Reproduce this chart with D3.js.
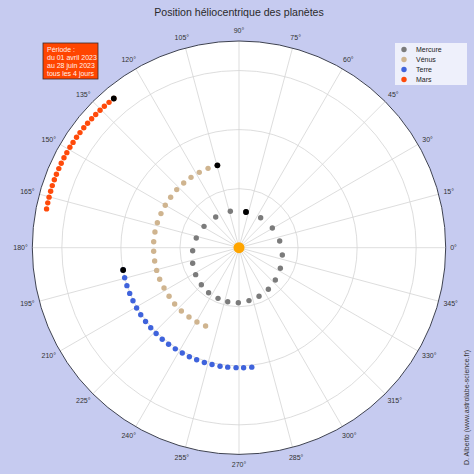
<!DOCTYPE html>
<html>
<head>
<meta charset="utf-8">
<script src="https://cdn.jsdelivr.net/npm/d3@7"></script>
<style>
  body { margin: 0; background: #c6cbf0; }
  svg { display: block; font-family: "Liberation Sans", Arial, sans-serif; }
</style>
</head>
<body>
<svg id="chart"></svg>
<script>
// heliocentric longitude (deg) and distance (AU), every 4 days, 01/04/2023 -> 28/06/2023
const mercureLon = [78.9, 103.4, 127.2, 148.6, 167.2, 183.7, 198.6, 211.9, 224.5, 236.0, 247.5, 258.2,
  269.3, 280.7, 292.4, 305.2, 318.3, 333.5, 350.4, 9.3, 30.6, 54.1, 78.9];
const mercureR = [0.308, 0.317, 0.326, 0.347, 0.371, 0.393, 0.414, 0.432, 0.447, 0.460, 0.464, 0.467,
  0.466, 0.456, 0.445, 0.431, 0.412, 0.391, 0.372, 0.349, 0.328, 0.313, 0.308];

const venusLon = [104.7, 111.3, 117.8, 124.3, 130.5, 137.0, 143.6, 150.1, 156.4, 163.0, 169.4, 176.0,
  182.4, 189.0, 195.4, 201.7, 208.3, 214.8, 221.2, 227.7, 234.2, 240.5, 246.9];
const venusR = [0.721, 0.721, 0.721, 0.721, 0.721, 0.721, 0.719, 0.720, 0.721, 0.723, 0.724, 0.724,
  0.723, 0.723, 0.723, 0.723, 0.721, 0.721, 0.724, 0.725, 0.724, 0.723, 0.721];

const terreLon = [190.9, 194.7, 198.7, 202.7, 206.6, 210.5, 214.3, 218.3, 222.2, 226.0, 230.0, 233.9,
  237.8, 241.7, 245.5, 249.3, 253.2, 257.0, 260.9, 264.6, 268.6, 272.2, 276.1];
const terreR = [0.999, 1.001, 1.002, 1.003, 1.004, 1.006, 1.007, 1.008, 1.009, 1.010, 1.011, 1.012,
  1.012, 1.013, 1.014, 1.014, 1.015, 1.015, 1.016, 1.016, 1.016, 1.017, 1.017];

const marsLon = [130.0, 131.8, 133.6, 135.3, 137.1, 138.8, 140.6, 142.3, 144.1, 145.8, 147.6, 149.3,
  151.1, 152.8, 154.6, 156.3, 158.1, 159.8, 161.6, 163.3, 165.1, 166.8, 168.6];
const marsR = [1.649, 1.651, 1.653, 1.655, 1.656, 1.658, 1.659, 1.661, 1.662, 1.663, 1.664, 1.665,
  1.665, 1.666, 1.666, 1.666, 1.666, 1.666, 1.666, 1.665, 1.664, 1.663, 1.662];

const planetNames = ["Mercure", "Vénus", "Terre", "Mars"];
const planetColors = ["#7b7b7b", "#cfb48f", "#3f63dc", "#ff4a0a"];
const angleTicks = d3.range(0, 360, 15);
const radialTicks = [0.5, 1, 1.5];
const periodLines = ["Période :", "du 01 avril 2023", "au 28 juin 2023", "tous les 4 jours"];

const width = 474, height = 474;
const cx = 239, cy = 247.7, outerR = 206.7;

const svg = d3.select("#chart").attr("width", width).attr("height", height);

const r = d3.scaleLinear().domain([0, 1.75]).range([0, outerR]);
// longitude counter-clockwise from the right -> d3.pointRadial angle
const a = d3.scaleLinear().domain([0, 360]).range([Math.PI / 2, Math.PI / 2 - 2 * Math.PI]);
const pt = (lon, dist) => d3.pointRadial(a(lon), r(dist));

svg.append("text")
  .attr("x", cx)
  .attr("y", 15.5)
  .attr("text-anchor", "middle")
  .style("font-size", "10.6px")
  .style("fill", "#2a2a2a")
  .text("Position héliocentrique des planètes");

const g = svg.append("g").attr("transform", `translate(${cx},${cy})`);

g.append("circle").attr("r", outerR).attr("fill", "#fff");

g.selectAll(".rgrid")
  .data(radialTicks)
  .enter()
  .append("circle")
  .attr("r", (d) => r(d))
  .attr("fill", "none")
  .attr("stroke", "#d4d4d4")
  .attr("stroke-width", 0.8);

g.selectAll(".agrid")
  .data(angleTicks)
  .enter()
  .append("line")
  .attr("x1", 0).attr("y1", 0)
  .attr("x2", (d) => pt(d, 1.75)[0])
  .attr("y2", (d) => pt(d, 1.75)[1])
  .attr("stroke", "#d4d4d4")
  .attr("stroke-width", 0.8);

g.append("circle")
  .attr("r", outerR)
  .attr("fill", "none")
  .attr("stroke", "#3d4150")
  .attr("stroke-width", 1);

// angular tick labels, pushed outward according to their box
const labels = g.selectAll(".alabel")
  .data(angleTicks)
  .enter()
  .append("text")
  .attr("text-anchor", "middle")
  .attr("dominant-baseline", "central")
  .style("font-size", "7px")
  .style("fill", "#333")
  .text((d) => d + "°");

labels.each(function (d) {
  const w = this.getComputedTextLength();
  const h = 7;
  const c = Math.cos(d * Math.PI / 180), s = Math.sin(d * Math.PI / 180);
  const pad = 4.5 + 2.5 * Math.abs(s);
  const x = (outerR + pad) * c + (w / 2) * c;
  const y = -(outerR + pad) * s - (h / 2) * s;
  d3.select(this).attr("x", x).attr("y", y);
});

// planets
const series = [
  { lon: mercureLon, dist: mercureR },
  { lon: venusLon, dist: venusR },
  { lon: terreLon, dist: terreR },
  { lon: marsLon, dist: marsR }
];

series.forEach((sr, k) => {
  const pts = sr.lon.map((lon, i) => pt(lon, sr.dist[i]));
  g.append("g")
    .selectAll("circle")
    .data(pts)
    .enter()
    .append("circle")
    .attr("cx", (d) => d[0])
    .attr("cy", (d) => d[1])
    .attr("r", 2.7)
    .attr("fill", planetColors[k]);
});

// starting positions (01/04/2023)
g.append("g")
  .selectAll("circle")
  .data(series)
  .enter()
  .append("circle")
  .attr("cx", (d) => pt(d.lon[0], d.dist[0])[0])
  .attr("cy", (d) => pt(d.lon[0], d.dist[0])[1])
  .attr("r", 2.9)
  .attr("fill", "#000");

// sun
g.append("circle").attr("r", 5.5).attr("fill", "#ffa500");

// legend
const legend = svg.append("g").attr("transform", "translate(395,43)");
legend.append("rect")
  .attr("width", 72)
  .attr("height", 42)
  .attr("fill", "rgba(255,255,255,0.7)");
planetNames.forEach((name, i) => {
  legend.append("circle")
    .attr("cx", 9)
    .attr("cy", 6.5 + i * 10)
    .attr("r", 2.7)
    .attr("fill", planetColors[i]);
  legend.append("text")
    .attr("x", 21)
    .attr("y", 9 + i * 10)
    .style("font-size", "7px")
    .style("fill", "#222")
    .text(name);
});

// period box
const box = svg.append("g").attr("transform", "translate(43,43)");
box.append("rect")
  .attr("width", 55)
  .attr("height", 36)
  .attr("fill", "#ff4500")
  .attr("stroke", "#3a2a2a")
  .attr("stroke-width", 0.8);
box.selectAll("text")
  .data(periodLines)
  .enter()
  .append("text")
  .attr("x", 4)
  .attr("y", (d, i) => 8.5 + i * 8.2)
  .style("font-size", "7px")
  .style("fill", "#fff2ea")
  .text((d) => d);

// credit
svg.append("text")
  .attr("transform", "translate(469,465) rotate(-90)")
  .attr("text-anchor", "start")
  .style("font-size", "7px")
  .style("fill", "#333")
  .text("D. Alberto (www.astrolabe-science.fr)");
</script>
</body>
</html>
